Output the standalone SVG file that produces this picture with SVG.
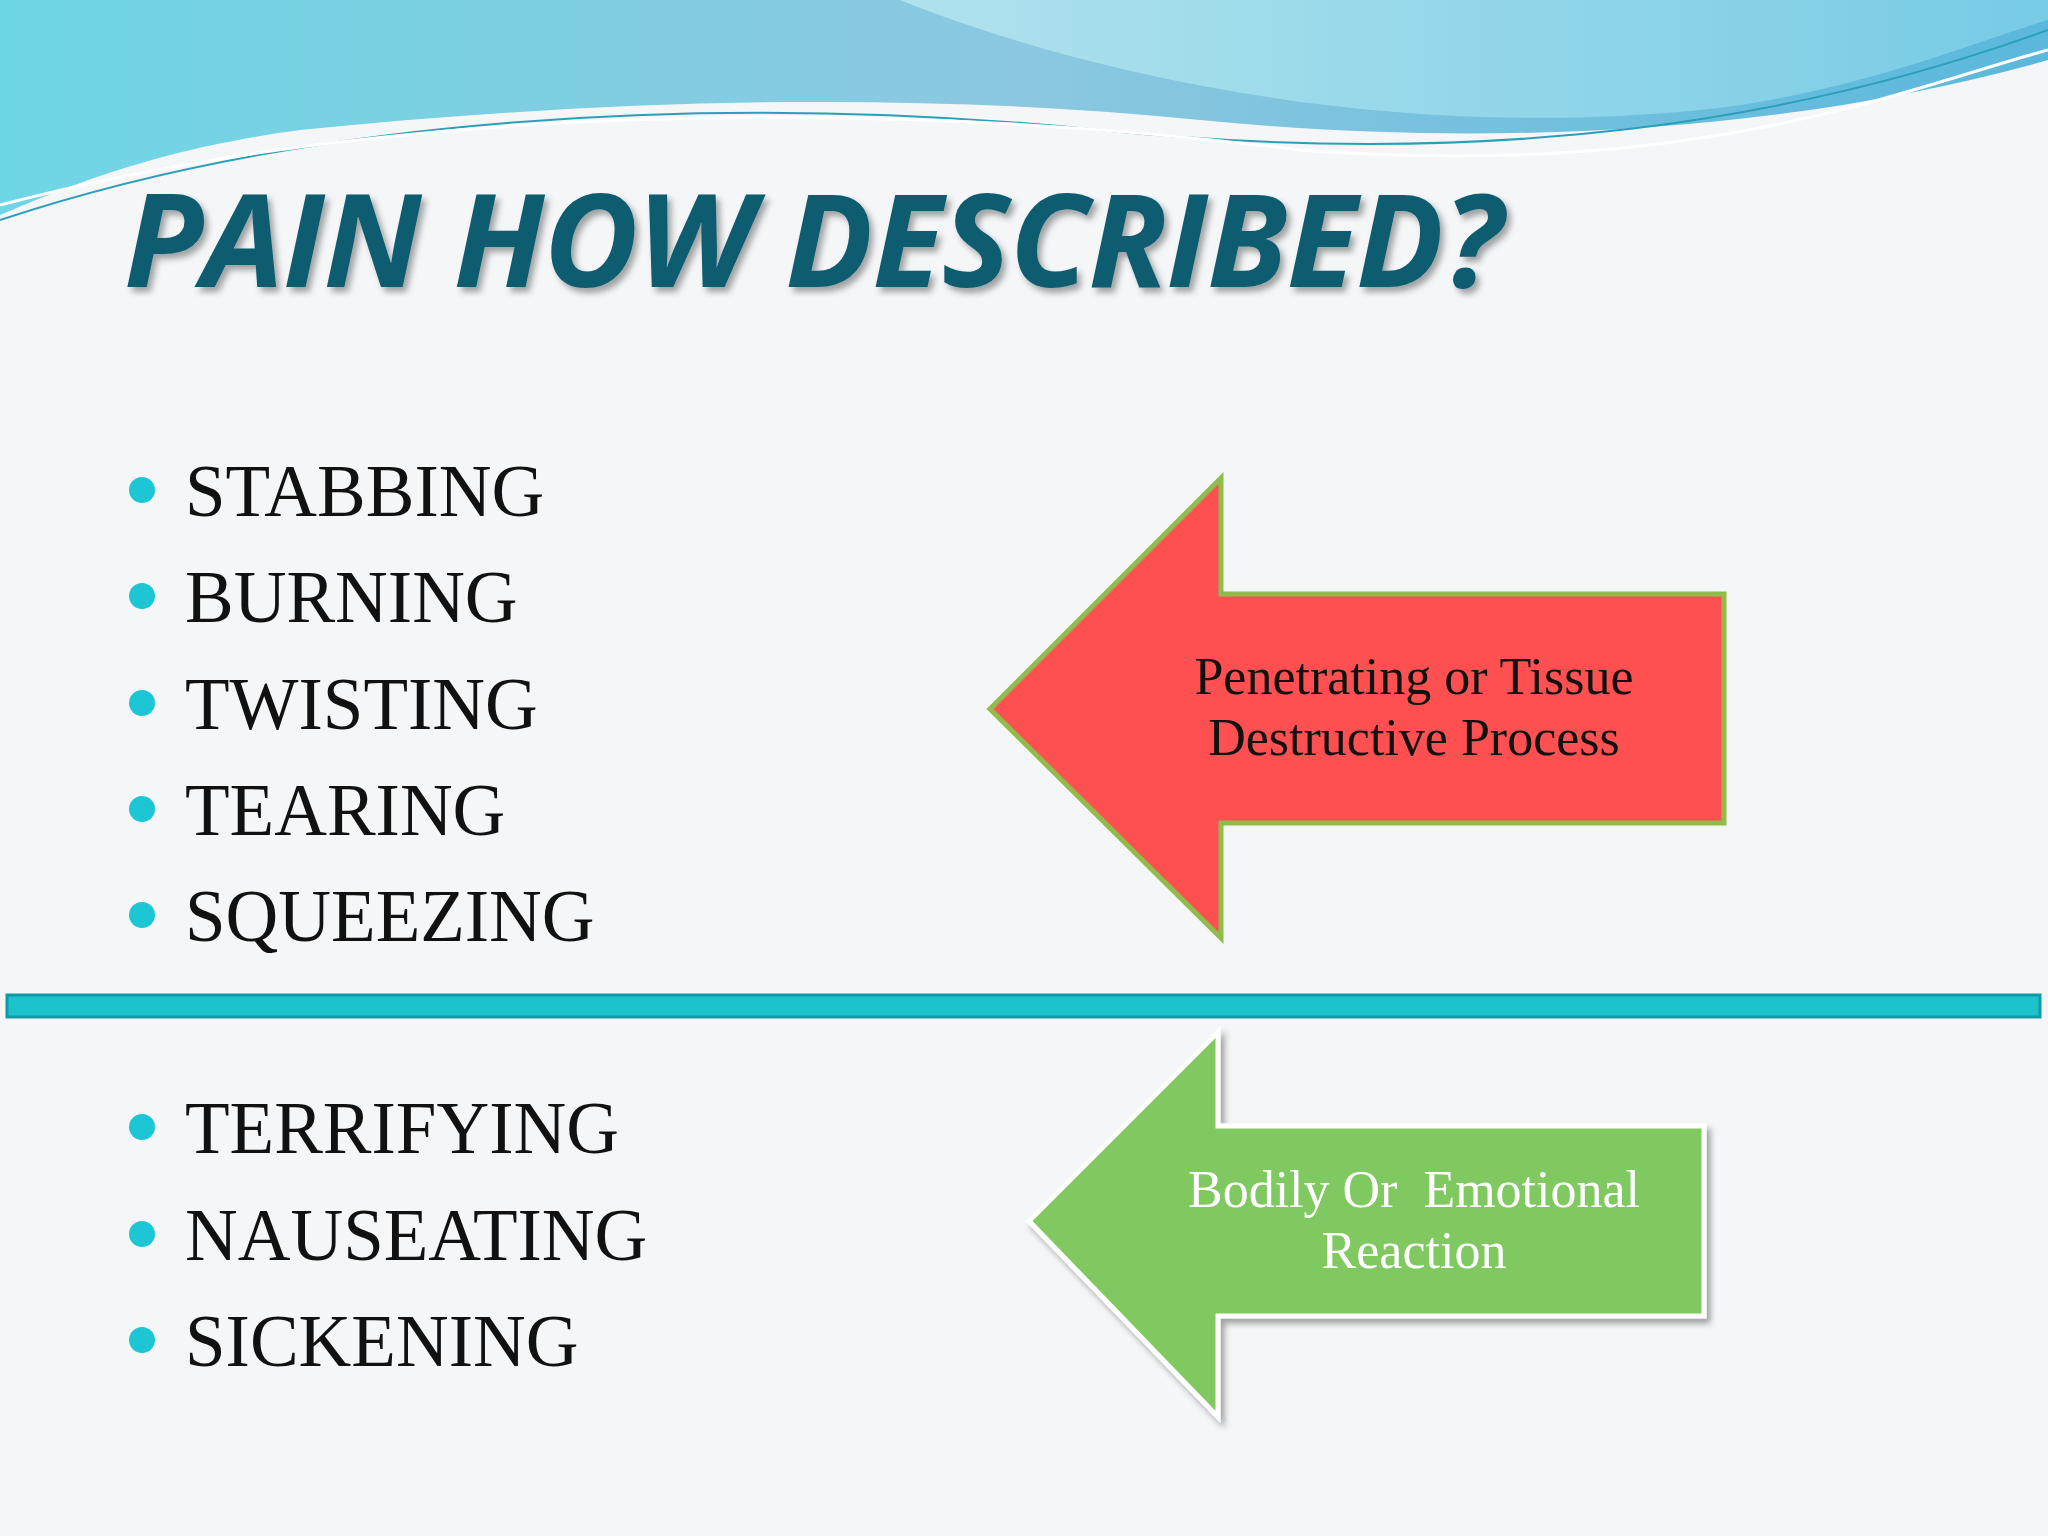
<svg xmlns="http://www.w3.org/2000/svg" width="2048" height="1536" viewBox="0 0 2048 1536">
<defs>
<linearGradient id="wave1" x1="0" y1="0" x2="1" y2="0"><stop offset="0" stop-color="#6fd6e6"/><stop offset="0.5" stop-color="#8cc8e0"/><stop offset="1" stop-color="#5ab8dc"/></linearGradient>
<linearGradient id="wave2" x1="0" y1="0" x2="1" y2="0"><stop offset="0" stop-color="#b8e8f0"/><stop offset="1" stop-color="#7fd0e8"/></linearGradient>
<filter id="sh" x="-10%" y="-10%" width="130%" height="130%"><feDropShadow dx="4" dy="5" stdDeviation="3" flood-color="#000" flood-opacity="0.35"/></filter>
<style>
.b{font-family:"Liberation Serif",serif;font-size:73px;fill:#111}
.d{fill:#1cc6d4}
.at{font-family:"Liberation Serif",serif;font-size:52px;text-anchor:middle}
</style>
</defs>
<rect width="2048" height="1536" fill="#f5f6f7"/>
<g id="header">
<path d="M0 0 H2048 V60 C1800 130 1500 150 1200 120 C900 90 600 100 300 130 C150 150 60 190 0 215 Z" fill="url(#wave1)"/>
<path d="M900 0 C1100 80 1400 140 1700 110 C1850 95 1980 40 2048 20 V0 Z" fill="url(#wave2)" opacity="0.8"/>
<path d="M0 220 C300 120 700 90 1100 130 C1500 170 1800 120 2048 30" fill="none" stroke="#2aa0b8" stroke-width="2"/>
<path d="M0 205 C400 100 900 100 1300 150 C1700 180 1900 90 2048 50" fill="none" stroke="#ffffff" stroke-width="3"/>
</g>
<g id="title"><text x="124" y="287" font-family="'Open Sans','Liberation Sans',sans-serif" font-size="130" font-weight="bold" font-style="italic" fill="#0d5b70" filter="url(#sh)" letter-spacing="-1">PAIN HOW DESCRIBED?</text></g>
<g id="list-top">
<circle class="d" cx="142" cy="490" r="13"/><text class="b" x="185" y="516">STABBING</text>
<circle class="d" cx="142" cy="596" r="13"/><text class="b" x="185" y="622">BURNING</text>
<circle class="d" cx="142" cy="703" r="13"/><text class="b" x="185" y="729">TWISTING</text>
<circle class="d" cx="142" cy="809" r="13"/><text class="b" x="185" y="835">TEARING</text>
<circle class="d" cx="142" cy="915" r="13"/><text class="b" x="185" y="941">SQUEEZING</text>
</g>
<g id="divider"><rect x="7" y="995" width="2033" height="22" fill="#1cc3cc" stroke="#0f9aa8" stroke-width="3"/></g>
<g id="list-bottom">
<circle class="d" cx="142" cy="1127" r="13"/><text class="b" x="185" y="1153">TERRIFYING</text>
<circle class="d" cx="142" cy="1234" r="13"/><text class="b" x="185" y="1260">NAUSEATING</text>
<circle class="d" cx="142" cy="1340" r="13"/><text class="b" x="185" y="1366">SICKENING</text>
</g>
<g id="arrow-red">
<polygon points="990,709 1221,478 1221,594 1724,594 1724,823 1221,823 1221,938" fill="#fe5050" stroke="#8fbc4a" stroke-width="5" stroke-linejoin="miter"/>
<text class="at" x="1414" y="694" fill="#111">Penetrating or Tissue</text>
<text class="at" x="1414" y="755" fill="#111">Destructive Process</text>
</g>
<g id="arrow-green">
<polygon points="1029,1221 1218,1032 1218,1126 1704,1126 1704,1316 1218,1316 1218,1417" fill="#80c860" stroke="#ffffff" stroke-width="5" filter="url(#sh)"/>
<text class="at" x="1414" y="1207" fill="#ffffff" xml:space="preserve">Bodily Or  Emotional</text>
<text class="at" x="1414" y="1268" fill="#ffffff">Reaction</text>
</g>
</svg>
